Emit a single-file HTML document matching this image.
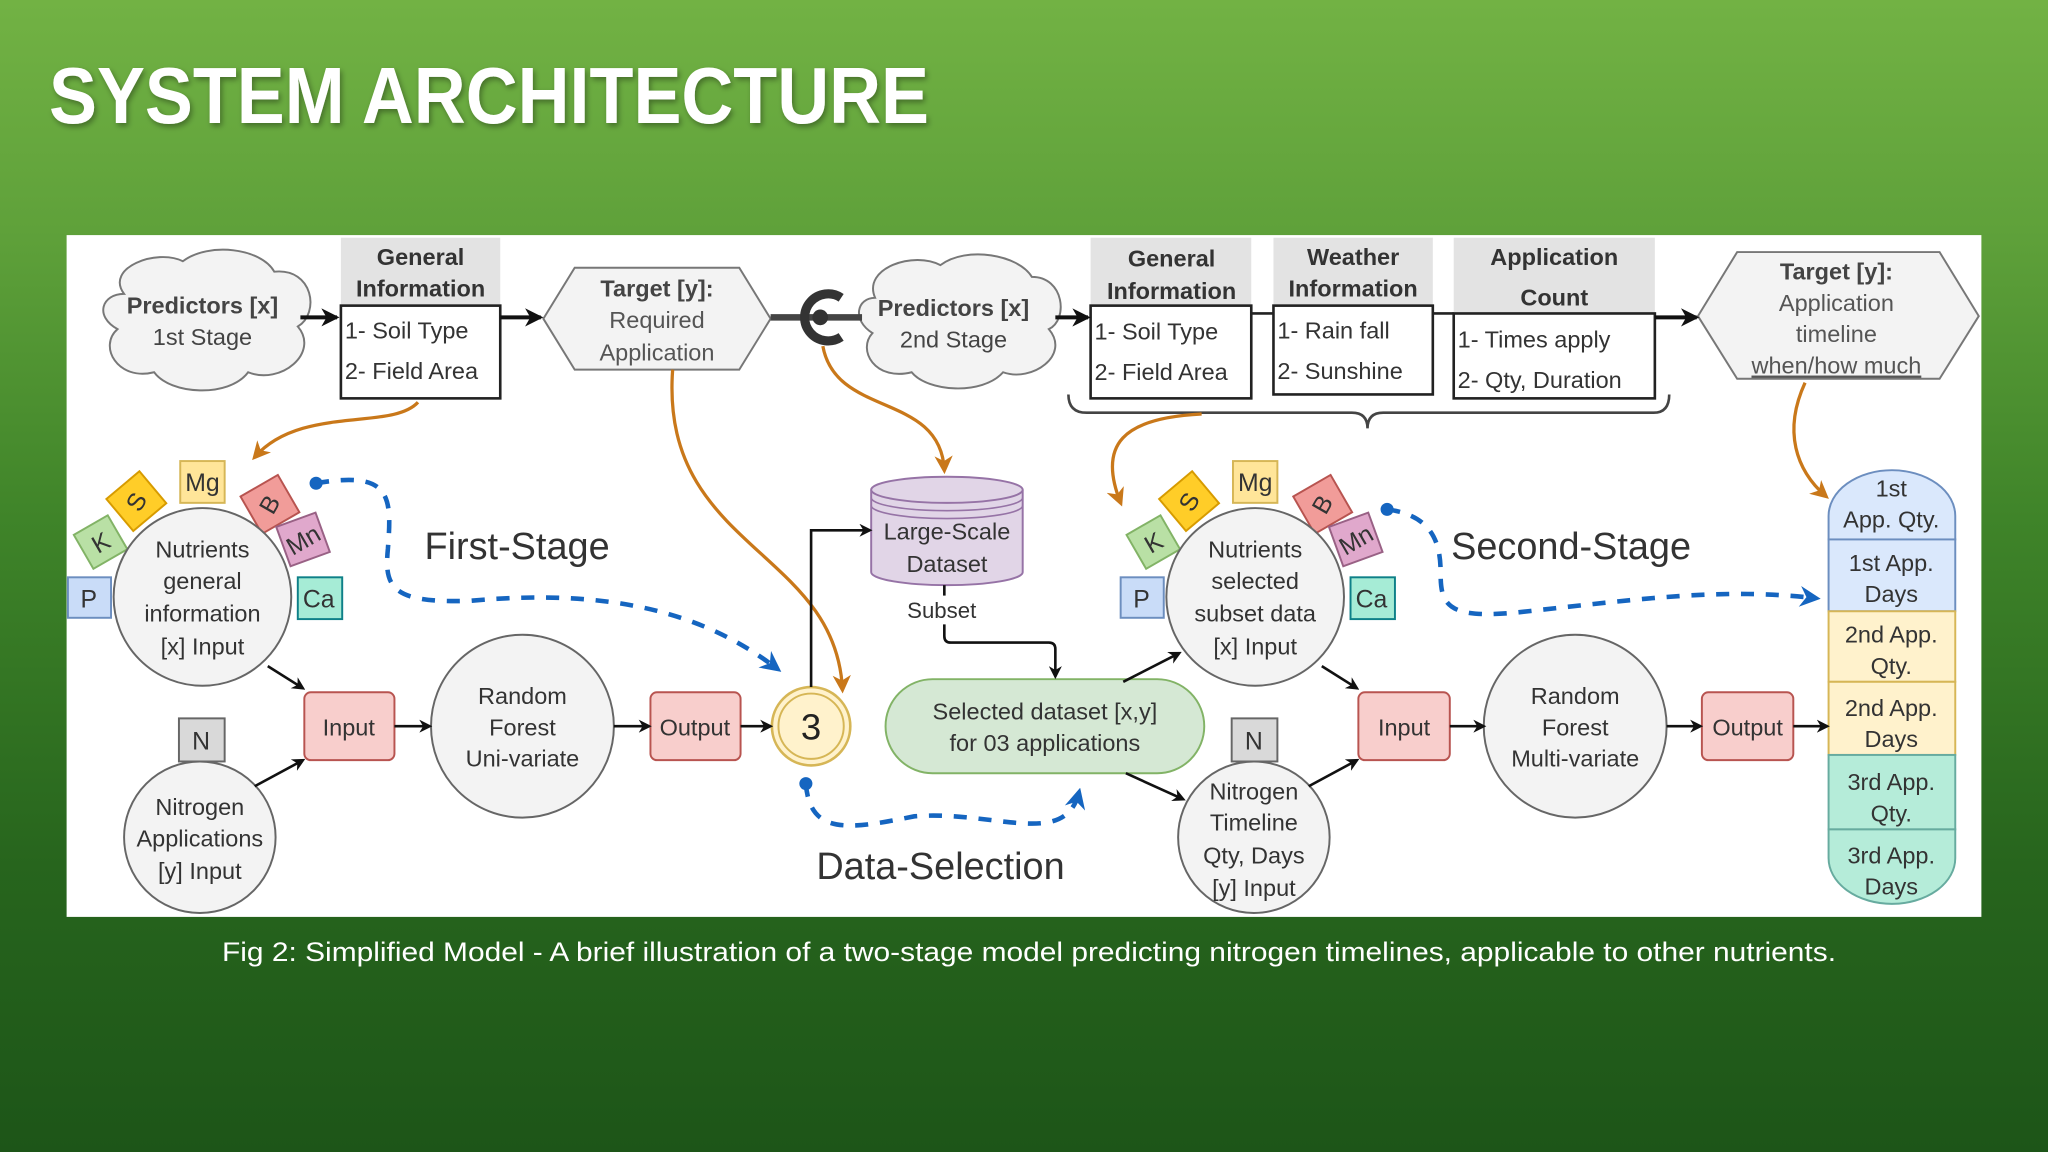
<!DOCTYPE html>
<html><head><meta charset="utf-8"><style>
html,body{margin:0;padding:0;width:2048px;height:1152px;overflow:hidden}
body{background:linear-gradient(180deg,#72b244 0%,#5fa13a 20%,#3f8429 45%,#27651d 75%,#1d5518 100%)}
svg{position:absolute;left:0;top:0}
text{font-family:"Liberation Sans Narrow","Liberation Sans",sans-serif}
</style></head><body>
<svg width="2048" height="1152" viewBox="0 0 2048 1152">
<defs>
<marker id="ab" markerWidth="10" markerHeight="10" refX="8" refY="5" orient="auto" markerUnits="userSpaceOnUse"><path d="M0,0 L10,5 L0,10 L3,5z" fill="#111"/></marker>
<marker id="abb" markerWidth="14" markerHeight="14" refX="12" refY="7" orient="auto" markerUnits="userSpaceOnUse"><path d="M0,0 L14,7 L0,14 L4,7z" fill="#111"/></marker>
<marker id="ao" markerWidth="14" markerHeight="14" refX="11" refY="7" orient="auto" markerUnits="userSpaceOnUse"><path d="M0,0 L14,7 L0,14 L4,7z" fill="#c9781a"/></marker>
<marker id="abl" markerWidth="16" markerHeight="16" refX="12" refY="8" orient="auto" markerUnits="userSpaceOnUse"><path d="M0,0 L16,8 L0,16 L5,8z" fill="#1565c0"/></marker>
<filter id="sh"><feDropShadow dx="2" dy="3" stdDeviation="3" flood-color="#000" flood-opacity="0.35"/></filter>
</defs>
<text x="49" y="123" font-size="80" font-weight="bold" fill="#fff" textLength="880" lengthAdjust="spacingAndGlyphs" filter="url(#sh)" style="font-family:'Liberation Sans',sans-serif">SYSTEM ARCHITECTURE</text>
<text x="222" y="961" font-size="27" fill="#fff" textLength="1614" lengthAdjust="spacingAndGlyphs" style="font-family:'Liberation Sans',sans-serif">Fig 2: Simplified Model - A brief illustration of a two-stage model predicting nitrogen timelines, applicable to other nutrients.</text>
<g transform="scale(1.306122)">
<rect x="51" y="180" width="1466" height="522" fill="#fff"/>
<g font-size="18" fill="#333" text-anchor="middle">
<g fill="#f3f3f3" stroke="#777" stroke-width="1.5">
<path d="M95,225 C80,205 120,190 140,200 C160,185 200,190 210,208 C240,205 245,240 228,250 C245,270 215,295 190,285 C175,305 130,302 118,285 C90,292 75,265 90,252 C72,242 78,225 95,225z"/>
<path d="M670,228 C660,205 700,192 720,203 C740,188 780,195 790,212 C815,212 818,245 803,252 C820,272 790,293 768,285 C752,303 710,300 698,285 C670,292 656,268 668,255 C652,245 656,228 670,228z"/>
</g>
<text x="155" y="240" font-weight="bold" fill="#444">Predictors [x]</text><text x="155" y="264" fill="#444">1st Stage</text>
<text x="730" y="242" font-weight="bold" fill="#444">Predictors [x]</text><text x="730" y="266" fill="#444">2nd Stage</text>
<rect x="261" y="182" width="122" height="52" fill="#e3e3e3"/>
<rect x="261" y="234" width="122" height="71" fill="#fff" stroke="#222" stroke-width="2"/>
<text x="322" y="203" font-weight="bold">General</text><text x="322" y="227" font-weight="bold">Information</text>
<text x="264" y="259" text-anchor="start">1- Soil Type</text><text x="264" y="290" text-anchor="start">2- Field Area</text>
<rect x="835" y="182" width="123" height="52" fill="#e3e3e3"/>
<rect x="835" y="234" width="123" height="71" fill="#fff" stroke="#222" stroke-width="2"/>
<text x="897" y="204" font-weight="bold">General</text><text x="897" y="229" font-weight="bold">Information</text>
<text x="838" y="260" text-anchor="start">1- Soil Type</text><text x="838" y="291" text-anchor="start">2- Field Area</text>
<rect x="975" y="182" width="122" height="52" fill="#e3e3e3"/>
<rect x="975" y="234" width="122" height="68" fill="#fff" stroke="#222" stroke-width="2"/>
<text x="1036" y="203" font-weight="bold">Weather</text><text x="1036" y="227" font-weight="bold">Information</text>
<text x="978" y="259" text-anchor="start">1- Rain fall</text><text x="978" y="290" text-anchor="start">2- Sunshine</text>
<rect x="1113" y="182" width="154" height="58" fill="#e3e3e3"/>
<rect x="1113" y="240" width="154" height="65" fill="#fff" stroke="#222" stroke-width="2"/>
<text x="1190" y="203" font-weight="bold">Application</text><text x="1190" y="234" font-weight="bold">Count</text>
<text x="1116" y="266" text-anchor="start">1- Times apply</text><text x="1116" y="297" text-anchor="start">2- Qty, Duration</text>
<g stroke="#222" stroke-width="2" fill="none"><path d="M958,240 H975"/><path d="M1097,240 H1113"/>
<path d="M818,302 Q818,316 832,316 H1035 Q1047,316 1047,328 Q1047,316 1059,316 H1266 Q1278,316 1278,302" stroke="#444"/></g>
<path d="M440,205 H566 L590,244 L566,283 H440 L416,244z" fill="#f3f3f3" stroke="#777" stroke-width="1.5"/>
<text x="503" y="227" font-weight="bold" fill="#444">Target [y]:</text><text x="503" y="251" fill="#555">Required</text><text x="503" y="276" fill="#555">Application</text>
<path d="M1330,193 H1485 L1515,242 L1485,290 H1330 L1300,242z" fill="#f3f3f3" stroke="#777" stroke-width="1.5"/>
<text x="1406" y="214" font-weight="bold" fill="#444">Target [y]:</text><text x="1406" y="238" fill="#555">Application</text><text x="1406" y="262" fill="#555">timeline</text><text x="1406" y="286" fill="#555" text-decoration="underline">when/how much</text>
<g stroke="#111" stroke-width="3" fill="none">
<path d="M230,243 H258" marker-end="url(#abb)"/><path d="M383,243 H414" marker-end="url(#abb)"/>
<path d="M808,243 H833" marker-end="url(#abb)"/><path d="M1267,243 H1299" marker-end="url(#abb)"/>
</g>
<path d="M590,243 H660" stroke="#444" stroke-width="5"/>
<path d="M644,228 A18,18 0 1 0 644,258" stroke="#333" stroke-width="7" fill="none"/>
<circle cx="628" cy="243" r="6" fill="#333"/>
<g stroke="#c9781a" stroke-width="2.5" fill="none">
<path d="M320,308 C300,330 230,310 195,350" marker-end="url(#ao)"/>
<path d="M515,283 C505,420 640,420 645,528" marker-end="url(#ao)"/>
<path d="M630,265 C640,320 720,300 723,360" marker-end="url(#ao)"/>
<path d="M920,317 C860,320 840,340 858,385" marker-end="url(#ao)"/>
<path d="M1382,293 C1365,330 1375,360 1398,380" marker-end="url(#ao)"/>
</g>
<g stroke-width="1.5" font-size="19">
<g>
<rect x="52" y="442" width="33" height="31" fill="#c9dcf8" stroke="#6c8ebf"/><text x="68" y="465">P</text>
<rect x="62" y="400" width="30" height="30" fill="#b9e0a5" stroke="#82b366" transform="rotate(-30 77 415)"/><text x="77" y="422" transform="rotate(-30 77 415)">K</text>
<rect x="88" y="368" width="33" height="32" fill="#ffcd28" stroke="#d79b00" transform="rotate(-40 104 384)"/><text x="104" y="391" transform="rotate(-60 104 384)">S</text>
<rect x="138" y="353" width="34" height="32" fill="#ffe599" stroke="#d6b656"/><text x="155" y="376">Mg</text>
<rect x="190" y="370" width="33" height="33" fill="#f19c99" stroke="#b85450" transform="rotate(-30 206 386)"/><text x="206" y="393" transform="rotate(-60 206 386)">B</text>
<rect x="216" y="397" width="32" height="32" fill="#e0a8cc" stroke="#996185" transform="rotate(-20 232 413)"/><text x="232" y="420" transform="rotate(-30 232 413)">Mn</text>
<rect x="228" y="442" width="34" height="32" fill="#a6ecd6" stroke="#0e8088"/><text x="244" y="465">Ca</text>
<rect x="137" y="550" width="35" height="33" fill="#d9d9d9" stroke="#666"/><text x="154" y="574">N</text>
</g>
<g transform="translate(806,0)">
<rect x="52" y="442" width="33" height="31" fill="#c9dcf8" stroke="#6c8ebf"/><text x="68" y="465">P</text>
<rect x="62" y="400" width="30" height="30" fill="#b9e0a5" stroke="#82b366" transform="rotate(-30 77 415)"/><text x="77" y="422" transform="rotate(-30 77 415)">K</text>
<rect x="88" y="368" width="33" height="32" fill="#ffcd28" stroke="#d79b00" transform="rotate(-40 104 384)"/><text x="104" y="391" transform="rotate(-60 104 384)">S</text>
<rect x="138" y="353" width="34" height="32" fill="#ffe599" stroke="#d6b656"/><text x="155" y="376">Mg</text>
<rect x="190" y="370" width="33" height="33" fill="#f19c99" stroke="#b85450" transform="rotate(-30 206 386)"/><text x="206" y="393" transform="rotate(-60 206 386)">B</text>
<rect x="216" y="397" width="32" height="32" fill="#e0a8cc" stroke="#996185" transform="rotate(-20 232 413)"/><text x="232" y="420" transform="rotate(-30 232 413)">Mn</text>
<rect x="228" y="442" width="34" height="32" fill="#a6ecd6" stroke="#0e8088"/><text x="244" y="465">Ca</text>
<rect x="137" y="550" width="35" height="33" fill="#d9d9d9" stroke="#666"/><text x="154" y="574">N</text>
</g>
</g>
<g fill="#f3f3f3" stroke="#666" stroke-width="1.5">
<circle cx="155" cy="457" r="68"/><circle cx="153" cy="641" r="58"/><circle cx="400" cy="556" r="70"/>
<circle cx="961" cy="457" r="68"/><circle cx="960" cy="641" r="58"/><circle cx="1206" cy="556" r="70"/>
</g>
<text x="155" y="427">Nutrients</text><text x="155" y="451">general</text><text x="155" y="476">information</text><text x="155" y="501">[x] Input</text>
<text x="153" y="624">Nitrogen</text><text x="153" y="648">Applications</text><text x="153" y="673">[y] Input</text>
<text x="400" y="539">Random</text><text x="400" y="563">Forest</text><text x="400" y="587">Uni-variate</text>
<text x="961" y="427">Nutrients</text><text x="961" y="451">selected</text><text x="961" y="476">subset data</text><text x="961" y="501">[x] Input</text>
<text x="960" y="612">Nitrogen</text><text x="960" y="636">Timeline</text><text x="960" y="661">Qty, Days</text><text x="960" y="686">[y] Input</text>
<text x="1206" y="539">Random</text><text x="1206" y="563">Forest</text><text x="1206" y="587">Multi-variate</text>
<g fill="#f8cecc" stroke="#b85450" stroke-width="1.5">
<rect x="233" y="530" width="69" height="52" rx="5"/><rect x="498" y="530" width="69" height="52" rx="5"/>
<rect x="1040" y="530" width="70" height="52" rx="5"/><rect x="1303" y="530" width="70" height="52" rx="5"/>
</g>
<text x="267" y="563">Input</text><text x="532" y="563">Output</text><text x="1075" y="563">Input</text><text x="1338" y="563">Output</text>
<circle cx="621" cy="556" r="30" fill="#fff2cc" stroke="#d6b656" stroke-width="2"/>
<circle cx="621" cy="556" r="25" fill="none" stroke="#d6b656" stroke-width="1.5"/>
<text x="621" y="566" font-size="28" fill="#222">3</text>
<path d="M667,375 V438 A58,10 0 0 0 783,438 V375" fill="#e1d5e7" stroke="#9673a6" stroke-width="1.5"/>
<ellipse cx="725" cy="375" rx="58" ry="10" fill="#e1d5e7" stroke="#9673a6" stroke-width="1.5"/>
<path d="M667,381 A58,10 0 0 0 783,381 M667,387 A58,10 0 0 0 783,387" fill="none" stroke="#9673a6" stroke-width="1.2"/>
<text x="725" y="413">Large-Scale</text><text x="725" y="438">Dataset</text>
<text x="721" y="473" font-size="17">Subset</text>
<rect x="678" y="520" width="244" height="72" rx="36" fill="#d5e8d4" stroke="#82b366" stroke-width="1.5"/>
<text x="800" y="551">Selected dataset [x,y]</text><text x="800" y="575">for 03 applications</text>
<g stroke-width="1.5">
<path d="M1400,413 V395 A48.5,35 0 0 1 1497,395 V413z" fill="#dae8fc" stroke="#6c8ebf"/>
<rect x="1400" y="413" width="97" height="55" fill="#dae8fc" stroke="#6c8ebf"/>
<rect x="1400" y="468" width="97" height="54" fill="#fff2cc" stroke="#d6b656"/>
<rect x="1400" y="522" width="97" height="56" fill="#fff2cc" stroke="#d6b656"/>
<rect x="1400" y="578" width="97" height="57" fill="#b5ecd9" stroke="#67ab9f"/>
<path d="M1400,635 V657 A48.5,35 0 0 0 1497,657 V635z" fill="#b5ecd9" stroke="#67ab9f"/>
</g>
<text x="1448" y="380">1st</text><text x="1448" y="404">App. Qty.</text>
<text x="1448" y="437">1st App.</text><text x="1448" y="461">Days</text>
<text x="1448" y="492">2nd App.</text><text x="1448" y="516">Qty.</text>
<text x="1448" y="548">2nd App.</text><text x="1448" y="572">Days</text>
<text x="1448" y="605">3rd App.</text><text x="1448" y="629">Qty.</text>
<text x="1448" y="661">3rd App.</text><text x="1448" y="685">Days</text>
<g stroke="#111" stroke-width="2" fill="none">
<path d="M205,510 L232,527" marker-end="url(#ab)"/><path d="M195,602 L232,582" marker-end="url(#ab)"/>
<path d="M302,556 H329" marker-end="url(#ab)"/><path d="M470,556 H497" marker-end="url(#ab)"/>
<path d="M567,556 H590" marker-end="url(#ab)"/>
<path d="M621,526 V406 H666" marker-end="url(#ab)"/>
<path d="M723,448 V456"/><path d="M723,478 V487 Q723,492 728,492 H803 Q808,492 808,497 V518" marker-end="url(#ab)"/>
<path d="M860,522 L903,500" marker-end="url(#ab)"/><path d="M862,592 L906,612" marker-end="url(#ab)"/>
<path d="M1012,510 L1039,527" marker-end="url(#ab)"/><path d="M1002,602 L1039,582" marker-end="url(#ab)"/>
<path d="M1110,556 H1136" marker-end="url(#ab)"/><path d="M1276,556 H1302" marker-end="url(#ab)"/>
<path d="M1373,556 H1399" marker-end="url(#ab)"/>
</g>
<g stroke="#1565c0" stroke-width="3.5" fill="none" stroke-dasharray="10,9">
<path d="M242,370 C300,360 300,380 297,420 C294,450 300,462 360,460 C470,450 540,470 595,512" marker-end="url(#abl)"/>
<path d="M1062,390 C1100,395 1103,420 1103,440 C1103,465 1110,475 1170,468 C1260,458 1320,450 1390,458" marker-end="url(#abl)"/>
<path d="M617,600 C620,640 650,635 700,625 C760,620 815,650 826,607" marker-end="url(#abl)"/>
</g>
<circle cx="242" cy="370" r="5" fill="#1565c0"/><circle cx="1062" cy="390" r="5" fill="#1565c0"/><circle cx="617" cy="600" r="5" fill="#1565c0"/>
<g font-size="29" fill="#333" text-anchor="start" style="font-family:'Liberation Sans',sans-serif">
<text x="325" y="428">First-Stage</text><text x="1111" y="428">Second-Stage</text><text x="625" y="673">Data-Selection</text>
</g>
</g>
</g>
</svg>
</body></html>
